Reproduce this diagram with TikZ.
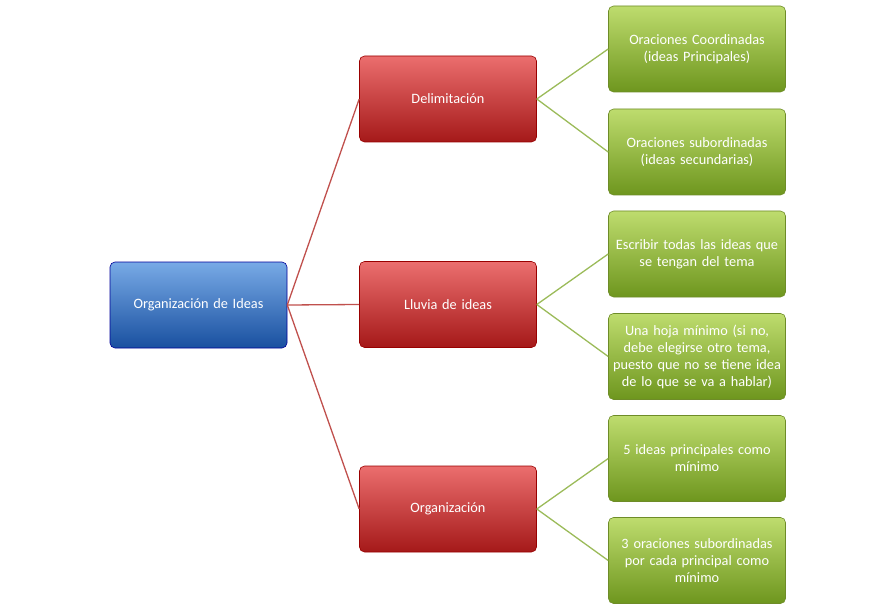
\documentclass[tikz,border=0pt]{standalone}
\usepackage{fontspec}
\setmainfont{Carlito}
\begin{document}
\begin{tikzpicture}[x=1pt,y=-1pt,
  box/.style={rounded corners=5pt,minimum width=177pt,minimum height=86pt,text width=173pt,align=center,text=white,font=\fontsize{14.3}{17}\selectfont,inner sep=2pt,draw=#1!60!black,line width=0.6pt},
  bluebox/.style={box=blue,top color={rgb,255:red,120;green,170;blue,230},bottom color={rgb,255:red,25;green,80;blue,160}},
  redbox/.style={box=red,top color={rgb,255:red,235;green,110;blue,110},bottom color={rgb,255:red,165;green,25;blue,25}},
  greenbox/.style={box=green,draw={rgb,255:red,110;green,140;blue,40},top color={rgb,255:red,190;green,220;blue,110},bottom color={rgb,255:red,110;green,150;blue,30}},
  redline/.style={draw={rgb,255:red,192;green,80;blue,77},line width=1.3pt},
  greenline/.style={draw={rgb,255:red,155;green,187;blue,89},line width=1.3pt}]
\useasboundingbox (0,0) rectangle (895,615);
\node[bluebox] (root) at (198.5,305) {Organización de Ideas};
\node[redbox] (r1) at (448,99) {Delimitación};
\node[redbox] (r2) at (448,304.5) {Lluvia de ideas};
\node[redbox] (r3) at (448,509) {Organización};
\node[greenbox] (g1) at (697,49) {Oraciones Coordinadas\\(ideas Principales)};
\node[greenbox] (g2) at (697,152) {Oraciones subordinadas\\(ideas secundarias)};
\node[greenbox] (g3) at (697,254) {Escribir todas las ideas que\\se tengan del tema};
\node[greenbox] (g4) at (697,356.5) {Una hoja mínimo (si no,\\debe elegirse otro tema,\\puesto que no se tiene idea\\de lo que se va a hablar)};
\node[greenbox] (g5) at (697,458.5) {5 ideas principales como\\mínimo};
\node[greenbox] (g6) at (697,560.5) {3 oraciones subordinadas\\por cada principal como\\mínimo};
\foreach \r in {r1,r2,r3} \draw[redline] (root.east) -- (\r.west);
\draw[greenline] (r1.east) -- (g1.west);
\draw[greenline] (r1.east) -- (g2.west);
\draw[greenline] (r2.east) -- (g3.west);
\draw[greenline] (r2.east) -- (g4.west);
\draw[greenline] (r3.east) -- (g5.west);
\draw[greenline] (r3.east) -- (g6.west);
\end{tikzpicture}
\end{document}
